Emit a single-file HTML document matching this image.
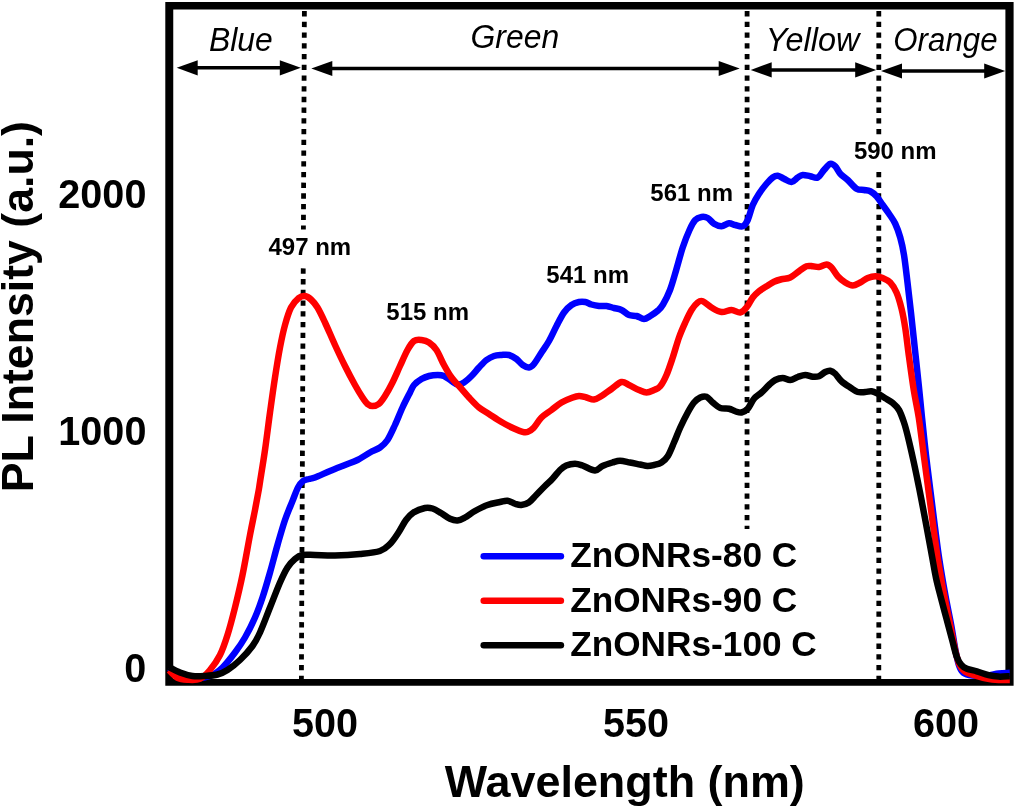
<!DOCTYPE html>
<html><head><meta charset="utf-8"><title>PL Intensity vs Wavelength</title>
<style>
html,body{margin:0;padding:0;background:#fff;}
body{width:1015px;height:808px;overflow:hidden;}
svg text{font-family:"Liberation Sans",Arial,Helvetica,sans-serif;fill:#000;}
</style></head><body>
<svg width="1015" height="808" viewBox="0 0 1015 808" style="display:block">
<rect width="1015" height="808" fill="#fff"/>
<line x1="304.39" y1="11.1" x2="301.40" y2="680" stroke="#000" stroke-width="4.8" stroke-dasharray="5.3 5.42" />
<line x1="747.10" y1="11.1" x2="747.02" y2="529" stroke="#000" stroke-width="4.8" stroke-dasharray="5.3 5.42" />
<line x1="878.80" y1="11.1" x2="878.80" y2="680" stroke="#000" stroke-width="4.8" stroke-dasharray="5.3 5.42" />
<rect x="295" y="229.5" width="20" height="38" fill="#fff"/>
<rect x="870" y="135" width="20" height="36.5" fill="#fff"/>
<path fill-rule="evenodd" d="M165.3 2.0H1013.6V685.8H165.3ZM173.25 9.4H1005.4V679.0H173.25Z"/>
<line x1="195.7" y1="67.8" x2="281.8" y2="67.8" stroke="#000" stroke-width="3.5"/><path d="M176.7 67.8 l21.0 -7.6 v15.2 z"/><path d="M300.8 67.8 l-21.0 -7.6 v15.2 z"/>
<line x1="330.3" y1="68.5" x2="720.7" y2="68.5" stroke="#000" stroke-width="3.5"/><path d="M311.3 68.5 l21.0 -7.6 v15.2 z"/><path d="M739.7 68.5 l-21.0 -7.6 v15.2 z"/>
<line x1="769.7" y1="69.9" x2="857.2" y2="69.9" stroke="#000" stroke-width="3.5"/><path d="M750.7 69.9 l21.0 -7.6 v15.2 z"/><path d="M876.2 69.9 l-21.0 -7.6 v15.2 z"/>
<line x1="900.0" y1="71.0" x2="986.2" y2="71.0" stroke="#000" stroke-width="3.5"/><path d="M881.0 71.0 l21.0 -7.6 v15.2 z"/><path d="M1005.2 71.0 l-21.0 -7.6 v15.2 z"/>
<path d="M169.00 668.00C170.83 669.17 175.67 673.33 180.00 675.00C184.33 676.67 190.00 677.83 195.00 678.00C200.00 678.17 205.42 677.75 210.00 676.00C214.58 674.25 218.33 671.42 222.50 667.50C226.67 663.58 231.25 657.50 235.00 652.50C238.75 647.50 241.67 643.33 245.00 637.50C248.33 631.67 252.08 624.17 255.00 617.50C257.92 610.83 260.00 605.00 262.50 597.50C265.00 590.00 267.50 581.25 270.00 572.50C272.50 563.75 275.00 553.75 277.50 545.00C280.00 536.25 282.50 527.33 285.00 520.00C287.50 512.67 290.33 506.42 292.50 501.00C294.67 495.58 296.25 490.83 298.00 487.50C299.75 484.17 301.17 482.42 303.00 481.00C304.83 479.58 307.00 479.58 309.00 479.00C311.00 478.42 311.50 478.83 315.00 477.50C318.50 476.17 325.00 473.08 330.00 471.00C335.00 468.92 340.42 466.83 345.00 465.00C349.58 463.17 353.33 462.08 357.50 460.00C361.67 457.92 366.25 454.58 370.00 452.50C373.75 450.42 377.08 449.58 380.00 447.50C382.92 445.42 385.00 443.75 387.50 440.00C390.00 436.25 392.50 430.42 395.00 425.00C397.50 419.58 400.00 412.92 402.50 407.50C405.00 402.08 408.08 396.25 410.00 392.50C411.92 388.75 412.08 387.25 414.00 385.00C415.92 382.75 419.00 380.50 421.50 379.00C424.00 377.50 426.29 376.67 429.00 376.00C431.71 375.33 435.25 375.00 437.75 375.00C440.25 375.00 441.71 375.00 444.00 376.00C446.29 377.00 449.21 379.58 451.50 381.00C453.79 382.42 455.67 384.25 457.75 384.50C459.83 384.75 461.71 383.92 464.00 382.50C466.29 381.08 469.00 378.50 471.50 376.00C474.00 373.50 476.50 370.17 479.00 367.50C481.50 364.83 484.00 361.92 486.50 360.00C489.00 358.08 491.50 356.83 494.00 356.00C496.50 355.17 499.00 355.17 501.50 355.00C504.00 354.83 506.50 354.33 509.00 355.00C511.50 355.67 514.21 357.33 516.50 359.00C518.79 360.67 520.67 363.58 522.75 365.00C524.83 366.42 527.12 367.67 529.00 367.50C530.88 367.33 531.92 366.50 534.00 364.00C536.08 361.50 539.00 356.33 541.50 352.50C544.00 348.67 546.50 345.42 549.00 341.00C551.50 336.58 554.00 330.75 556.50 326.00C559.00 321.25 561.50 316.00 564.00 312.50C566.50 309.00 569.00 306.75 571.50 305.00C574.00 303.25 576.71 302.50 579.00 302.00C581.29 301.50 583.17 301.58 585.25 302.00C587.33 302.42 589.21 303.83 591.50 304.50C593.79 305.17 596.50 305.75 599.00 306.00C601.50 306.25 604.00 305.67 606.50 306.00C609.00 306.33 611.50 307.33 614.00 308.00C616.50 308.67 619.00 308.83 621.50 310.00C624.00 311.17 626.50 314.00 629.00 315.00C631.50 316.00 634.00 315.33 636.50 316.00C639.00 316.67 641.71 319.00 644.00 319.00C646.29 319.00 647.92 317.42 650.25 316.00C652.58 314.58 655.88 312.42 658.00 310.50C660.12 308.58 661.00 307.92 663.00 304.50C665.00 301.08 667.80 295.75 670.00 290.00C672.20 284.25 674.08 277.08 676.20 270.00C678.32 262.92 680.48 254.17 682.70 247.50C684.92 240.83 687.41 234.58 689.50 230.00C691.59 225.42 693.25 222.17 695.25 220.00C697.25 217.83 699.42 217.33 701.50 217.00C703.58 216.67 705.67 216.88 707.75 218.00C709.83 219.12 711.71 222.38 714.00 223.75C716.29 225.12 719.00 226.33 721.50 226.25C724.00 226.17 726.71 223.46 729.00 223.25C731.29 223.04 732.96 224.50 735.25 225.00C737.54 225.50 740.67 227.08 742.75 226.25C744.83 225.42 746.08 223.54 747.75 220.00C749.42 216.46 750.88 209.38 752.75 205.00C754.62 200.62 756.71 197.29 759.00 193.75C761.29 190.21 764.21 186.46 766.50 183.75C768.79 181.04 770.88 178.83 772.75 177.50C774.62 176.17 775.88 175.54 777.75 175.75C779.62 175.96 781.71 177.71 784.00 178.75C786.29 179.79 789.21 182.21 791.50 182.00C793.79 181.79 795.88 178.67 797.75 177.50C799.62 176.33 800.67 175.21 802.75 175.00C804.83 174.79 807.75 175.83 810.25 176.25C812.75 176.67 815.46 178.54 817.75 177.50C820.04 176.46 821.92 172.29 824.00 170.00C826.08 167.71 828.38 164.38 830.25 163.75C832.12 163.12 833.58 164.58 835.25 166.25C836.92 167.92 838.17 171.46 840.25 173.75C842.33 176.04 845.04 177.50 847.75 180.00C850.46 182.50 853.79 187.08 856.50 188.75C859.21 190.42 861.71 189.58 864.00 190.00C866.29 190.42 868.17 190.21 870.25 191.25C872.33 192.29 874.42 193.96 876.50 196.25C878.58 198.54 880.67 202.08 882.75 205.00C884.83 207.92 886.92 210.62 889.00 213.75C891.08 216.88 893.38 219.79 895.25 223.75C897.12 227.71 898.79 232.29 900.25 237.50C901.71 242.71 902.79 247.50 904.00 255.00C905.21 262.50 906.29 272.50 907.50 282.50C908.71 292.50 910.00 303.75 911.25 315.00C912.50 326.25 913.75 338.33 915.00 350.00C916.25 361.67 917.58 373.75 918.75 385.00C919.92 396.25 920.79 405.83 922.00 417.50C923.21 429.17 924.57 442.50 926.00 455.00C927.43 467.50 929.10 480.42 930.60 492.50C932.10 504.58 933.53 516.25 935.00 527.50C936.47 538.75 937.67 548.68 939.40 560.00C941.13 571.32 943.43 584.55 945.40 595.40C947.37 606.25 949.50 615.85 951.20 625.10C952.90 634.35 954.27 644.08 955.60 650.90C956.93 657.72 957.88 662.32 959.20 666.00C960.52 669.68 961.37 671.42 963.50 673.00C965.63 674.58 968.13 675.08 972.00 675.50C975.87 675.92 982.27 675.83 986.70 675.50C991.13 675.17 994.75 673.95 998.60 673.50C1002.45 673.05 1007.93 672.92 1009.80 672.80" fill="none" stroke="#0000ff" stroke-width="6.5" stroke-linejoin="round" stroke-linecap="butt"/>
<path d="M169.00 670.00C170.42 671.30 174.42 676.18 177.50 677.80C180.58 679.42 183.75 679.53 187.50 679.70C191.25 679.87 196.25 680.42 200.00 678.80C203.75 677.18 206.67 673.97 210.00 670.00C213.33 666.03 217.08 660.83 220.00 655.00C222.92 649.17 225.00 642.92 227.50 635.00C230.00 627.08 232.50 617.50 235.00 607.50C237.50 597.50 240.00 587.08 242.50 575.00C245.00 562.92 247.92 545.83 250.00 535.00C252.08 524.17 253.54 517.50 255.00 510.00C256.46 502.50 257.92 494.67 258.75 490.00C259.58 485.33 258.96 488.67 260.00 482.00C261.04 475.33 263.33 461.58 265.00 450.00C266.67 438.42 268.33 424.58 270.00 412.50C271.67 400.42 273.33 388.33 275.00 377.50C276.67 366.67 278.33 356.25 280.00 347.50C281.67 338.75 283.17 331.67 285.00 325.00C286.83 318.33 288.71 312.00 291.00 307.50C293.29 303.00 296.42 299.92 298.75 298.00C301.08 296.08 302.96 295.75 305.00 296.00C307.04 296.25 308.92 297.58 311.00 299.50C313.08 301.42 315.17 303.67 317.50 307.50C319.83 311.33 322.08 316.25 325.00 322.50C327.92 328.75 331.67 337.75 335.00 345.00C338.33 352.25 341.67 359.33 345.00 366.00C348.33 372.67 352.08 379.75 355.00 385.00C357.92 390.25 360.42 394.33 362.50 397.50C364.58 400.67 365.83 402.58 367.50 404.00C369.17 405.42 370.62 406.00 372.50 406.00C374.38 406.00 376.67 405.67 378.75 404.00C380.83 402.33 382.71 399.58 385.00 396.00C387.29 392.42 390.00 387.50 392.50 382.50C395.00 377.50 397.50 371.42 400.00 366.00C402.50 360.58 405.17 354.17 407.50 350.00C409.83 345.83 411.67 342.67 414.00 341.00C416.33 339.33 419.00 339.75 421.50 340.00C424.00 340.25 426.50 340.83 429.00 342.50C431.50 344.17 434.00 346.25 436.50 350.00C439.00 353.75 441.50 360.42 444.00 365.00C446.50 369.58 449.00 374.00 451.50 377.50C454.00 381.00 456.08 382.67 459.00 386.00C461.92 389.33 465.67 393.92 469.00 397.50C472.33 401.08 475.67 404.75 479.00 407.50C482.33 410.25 485.25 411.58 489.00 414.00C492.75 416.42 497.33 419.58 501.50 422.00C505.67 424.42 510.50 426.87 514.00 428.50C517.50 430.13 520.25 431.22 522.50 431.80C524.75 432.38 525.67 432.63 527.50 432.00C529.33 431.37 531.17 430.42 533.50 428.00C535.83 425.58 538.50 420.50 541.50 417.50C544.50 414.50 548.17 412.50 551.50 410.00C554.83 407.50 558.17 404.50 561.50 402.50C564.83 400.50 568.58 399.08 571.50 398.00C574.42 396.92 576.50 396.08 579.00 396.00C581.50 395.92 584.00 396.92 586.50 397.50C589.00 398.08 591.50 399.75 594.00 399.50C596.50 399.25 598.58 397.75 601.50 396.00C604.42 394.25 608.17 391.33 611.50 389.00C614.83 386.67 618.58 382.67 621.50 382.00C624.42 381.33 626.08 383.67 629.00 385.00C631.92 386.33 636.08 388.75 639.00 390.00C641.92 391.25 644.00 392.50 646.50 392.50C649.00 392.50 651.71 391.04 654.00 390.00C656.29 388.96 658.17 388.75 660.25 386.25C662.33 383.75 664.42 379.79 666.50 375.00C668.58 370.21 670.67 363.75 672.75 357.50C674.83 351.25 676.92 343.33 679.00 337.50C681.08 331.67 683.17 327.08 685.25 322.50C687.33 317.92 689.42 313.33 691.50 310.00C693.58 306.67 695.88 303.96 697.75 302.50C699.62 301.04 700.46 300.42 702.75 301.25C705.04 302.08 708.38 305.71 711.50 307.50C714.62 309.29 718.17 311.58 721.50 312.00C724.83 312.42 728.38 309.92 731.50 310.00C734.62 310.08 737.75 312.92 740.25 312.50C742.75 312.08 744.42 310.00 746.50 307.50C748.58 305.00 750.67 300.21 752.75 297.50C754.83 294.79 756.71 293.12 759.00 291.25C761.29 289.38 764.00 287.83 766.50 286.25C769.00 284.67 771.50 282.92 774.00 281.75C776.50 280.58 778.79 279.96 781.50 279.25C784.21 278.54 787.33 278.83 790.25 277.50C793.17 276.17 796.29 273.12 799.00 271.25C801.71 269.38 804.21 267.08 806.50 266.25C808.79 265.42 810.67 266.12 812.75 266.25C814.83 266.38 816.71 267.29 819.00 267.00C821.29 266.71 824.42 264.42 826.50 264.50C828.58 264.58 829.62 265.54 831.50 267.50C833.38 269.46 835.46 273.75 837.75 276.25C840.04 278.75 842.75 280.96 845.25 282.50C847.75 284.04 850.25 285.50 852.75 285.50C855.25 285.50 857.75 283.75 860.25 282.50C862.75 281.25 865.25 279.04 867.75 278.00C870.25 276.96 872.75 276.25 875.25 276.25C877.75 276.25 880.25 276.96 882.75 278.00C885.25 279.04 887.96 280.08 890.25 282.50C892.54 284.92 894.62 288.17 896.50 292.50C898.38 296.83 900.04 302.58 901.50 308.50C902.96 314.42 904.04 320.25 905.25 328.00C906.46 335.75 907.33 344.67 908.75 355.00C910.17 365.33 912.08 379.58 913.75 390.00C915.42 400.42 917.08 406.67 918.75 417.50C920.42 428.33 922.08 442.50 923.75 455.00C925.42 467.50 927.14 480.42 928.75 492.50C930.36 504.58 931.86 516.25 933.40 527.50C934.94 538.75 936.20 548.68 938.00 560.00C939.80 571.32 942.17 584.55 944.20 595.40C946.23 606.25 948.33 615.85 950.20 625.10C952.07 634.35 953.83 644.28 955.40 650.90C956.97 657.52 958.00 661.33 959.60 664.80C961.20 668.27 962.45 669.93 965.00 671.70C967.55 673.47 971.28 674.25 974.90 675.40C978.52 676.55 982.75 677.83 986.70 678.60C990.65 679.37 994.75 679.77 998.60 680.00C1002.45 680.23 1007.93 680.00 1009.80 680.00" fill="none" stroke="#ff0000" stroke-width="6.5" stroke-linejoin="round" stroke-linecap="butt"/>
<path d="M169.00 667.00C170.83 667.92 176.08 671.00 180.00 672.50C183.92 674.00 188.33 675.42 192.50 676.00C196.67 676.58 200.83 676.25 205.00 676.00C209.17 675.75 213.75 675.50 217.50 674.50C221.25 673.50 223.75 672.42 227.50 670.00C231.25 667.58 235.83 664.00 240.00 660.00C244.17 656.00 249.17 650.58 252.50 646.00C255.83 641.42 257.08 638.92 260.00 632.50C262.92 626.08 266.67 615.83 270.00 607.50C273.33 599.17 277.08 589.17 280.00 582.50C282.92 575.83 285.00 571.42 287.50 567.50C290.00 563.58 292.50 561.08 295.00 559.00C297.50 556.92 299.17 555.67 302.50 555.00C305.83 554.33 309.58 554.92 315.00 555.00C320.42 555.08 327.50 555.67 335.00 555.50C342.50 555.33 352.50 554.75 360.00 554.00C367.50 553.25 375.00 552.67 380.00 551.00C385.00 549.33 386.92 547.08 390.00 544.00C393.08 540.92 395.83 536.50 398.50 532.50C401.17 528.50 403.50 523.33 406.00 520.00C408.50 516.67 410.33 514.50 413.50 512.50C416.67 510.50 421.83 508.67 425.00 508.00C428.17 507.33 429.83 507.67 432.50 508.50C435.17 509.33 438.08 511.29 441.00 513.00C443.92 514.71 447.25 517.50 450.00 518.75C452.75 520.00 455.00 520.71 457.50 520.50C460.00 520.29 462.08 519.08 465.00 517.50C467.92 515.92 471.25 513.08 475.00 511.00C478.75 508.92 483.33 506.50 487.50 505.00C491.67 503.50 496.67 502.71 500.00 502.00C503.33 501.29 505.00 500.46 507.50 500.75C510.00 501.04 512.71 503.04 515.00 503.75C517.29 504.46 518.96 505.21 521.25 505.00C523.54 504.79 526.25 504.17 528.75 502.50C531.25 500.83 533.54 497.75 536.25 495.00C538.96 492.25 542.29 488.71 545.00 486.00C547.71 483.29 550.00 481.42 552.50 478.75C555.00 476.08 557.71 472.21 560.00 470.00C562.29 467.79 563.75 466.54 566.25 465.50C568.75 464.46 572.29 463.75 575.00 463.75C577.71 463.75 579.17 464.38 582.50 465.50C585.83 466.62 591.67 470.42 595.00 470.50C598.33 470.58 599.58 467.33 602.50 466.00C605.42 464.67 609.58 463.38 612.50 462.50C615.42 461.62 617.08 460.75 620.00 460.75C622.92 460.75 626.67 461.88 630.00 462.50C633.33 463.12 637.08 463.92 640.00 464.50C642.92 465.08 645.17 465.92 647.50 466.00C649.83 466.08 651.67 465.58 654.00 465.00C656.33 464.42 659.21 463.96 661.50 462.50C663.79 461.04 665.67 459.58 667.75 456.25C669.83 452.92 671.92 447.29 674.00 442.50C676.08 437.71 677.96 432.50 680.25 427.50C682.54 422.50 685.46 416.67 687.75 412.50C690.04 408.33 691.92 405.00 694.00 402.50C696.08 400.00 698.17 398.46 700.25 397.50C702.33 396.54 704.42 395.92 706.50 396.75C708.58 397.58 710.46 400.62 712.75 402.50C715.04 404.38 717.54 406.96 720.25 408.00C722.96 409.04 726.50 408.21 729.00 408.75C731.50 409.29 733.17 410.62 735.25 411.25C737.33 411.88 739.42 412.92 741.50 412.50C743.58 412.08 745.67 411.04 747.75 408.75C749.83 406.46 751.71 401.46 754.00 398.75C756.29 396.04 759.00 394.79 761.50 392.50C764.00 390.21 766.71 387.08 769.00 385.00C771.29 382.92 772.96 381.17 775.25 380.00C777.54 378.83 780.25 378.00 782.75 378.00C785.25 378.00 787.75 380.17 790.25 380.00C792.75 379.83 795.25 377.83 797.75 377.00C800.25 376.17 802.75 375.04 805.25 375.00C807.75 374.96 810.46 376.54 812.75 376.75C815.04 376.96 816.92 377.04 819.00 376.25C821.08 375.46 823.38 372.92 825.25 372.00C827.12 371.08 828.58 370.46 830.25 370.75C831.92 371.04 833.38 372.00 835.25 373.75C837.12 375.50 839.00 378.96 841.50 381.25C844.00 383.54 847.54 385.71 850.25 387.50C852.96 389.29 855.25 391.25 857.75 392.00C860.25 392.75 862.96 392.12 865.25 392.00C867.54 391.88 869.42 390.96 871.50 391.25C873.58 391.54 875.46 392.58 877.75 393.75C880.04 394.92 882.75 396.71 885.25 398.25C887.75 399.79 890.46 401.04 892.75 403.00C895.04 404.96 897.12 406.75 899.00 410.00C900.88 413.25 902.58 418.33 904.00 422.50C905.42 426.67 905.97 428.82 907.50 435.00C909.03 441.18 911.57 452.27 913.20 459.60C914.83 466.93 915.95 472.43 917.30 479.00C918.65 485.57 920.02 492.42 921.30 499.00C922.58 505.58 923.75 511.87 925.00 518.50C926.25 525.13 927.58 532.22 928.80 538.80C930.02 545.38 931.10 551.47 932.30 558.00C933.50 564.53 934.60 571.50 936.00 578.00C937.40 584.50 938.93 590.13 940.70 597.00C942.47 603.87 944.65 611.87 946.60 619.20C948.55 626.53 950.70 634.73 952.40 641.00C954.10 647.27 955.32 652.83 956.80 656.80C958.28 660.77 959.62 662.82 961.30 664.80C962.98 666.78 964.32 667.62 966.90 668.70C969.48 669.78 973.17 670.22 976.80 671.30C980.43 672.38 985.07 674.32 988.70 675.20C992.33 676.08 995.08 676.43 998.60 676.60C1002.12 676.77 1007.93 676.27 1009.80 676.20" fill="none" stroke="#000" stroke-width="6.5" stroke-linejoin="round" stroke-linecap="butt"/>
<line x1="483.75" y1="556.3" x2="560.85" y2="556.3" stroke="#0000ff" stroke-width="6.6" stroke-linecap="round"/>
<line x1="483.75" y1="600.8" x2="560.85" y2="600.8" stroke="#ff0000" stroke-width="6.6" stroke-linecap="round"/>
<line x1="483.75" y1="645.3" x2="560.85" y2="645.3" stroke="#000" stroke-width="6.6" stroke-linecap="round"/>
<text transform="translate(209 51) scale(1 1.03)" text-anchor="start" style="font-size:31.9px;font-style:italic;">Blue</text>
<text transform="translate(470.5 48.2) scale(1 1.03)" text-anchor="start" style="font-size:31.9px;font-style:italic;">Green</text>
<text transform="translate(765.8 51) scale(1.015 1.03)" text-anchor="start" style="font-size:31.9px;font-style:italic;">Yellow</text>
<text transform="translate(893.3 51) scale(0.98 1.03)" text-anchor="start" style="font-size:31.9px;font-style:italic;">Orange</text>
<text transform="translate(268.5 255.1) scale(1 1.03)" text-anchor="start" style="font-size:24px;font-weight:bold;">497 nm</text>
<text transform="translate(386.3 320.20000000000005) scale(1 1.03)" text-anchor="start" style="font-size:24px;font-weight:bold;">515 nm</text>
<text transform="translate(546.3 283.0) scale(1 1.03)" text-anchor="start" style="font-size:24px;font-weight:bold;">541 nm</text>
<text transform="translate(650.3 200.6) scale(1 1.03)" text-anchor="start" style="font-size:24px;font-weight:bold;">561 nm</text>
<text transform="translate(853.9 159.4) scale(1 1.03)" text-anchor="start" style="font-size:24px;font-weight:bold;">590 nm</text>
<text transform="translate(570.2 567) scale(1.018 1)" text-anchor="start" style="font-size:34.6px;font-weight:bold;">ZnONRs-80 C</text>
<text transform="translate(570.2 611.5) scale(1.018 1)" text-anchor="start" style="font-size:34.6px;font-weight:bold;">ZnONRs-90 C</text>
<text transform="translate(570.2 656) scale(1.018 1)" text-anchor="start" style="font-size:34.6px;font-weight:bold;">ZnONRs-100 C</text>
<text transform="translate(146.4 207.8) scale(1 1.03)" text-anchor="end" style="font-size:39.6px;font-weight:bold;">2000</text>
<text transform="translate(146.4 445) scale(1 1.03)" text-anchor="end" style="font-size:39.6px;font-weight:bold;">1000</text>
<text transform="translate(146.4 682.2) scale(1 1.03)" text-anchor="end" style="font-size:39.6px;font-weight:bold;">0</text>
<text transform="translate(325 736.8) scale(1 1.03)" text-anchor="middle" style="font-size:39.6px;font-weight:bold;">500</text>
<text transform="translate(636 736.8) scale(1 1.03)" text-anchor="middle" style="font-size:39.6px;font-weight:bold;">550</text>
<text transform="translate(946 736.8) scale(1 1.03)" text-anchor="middle" style="font-size:39.6px;font-weight:bold;">600</text>
<text x="624.8" y="796.5" text-anchor="middle" style="font-size:44.9px;font-weight:bold;">Wavelength (nm)</text>
<text x="33" y="306.7" text-anchor="middle" style="font-size:44.67px;font-weight:bold;" transform="rotate(-90 33 306.7)">PL Intensity (a.u.)</text>
</svg>
</body></html>
